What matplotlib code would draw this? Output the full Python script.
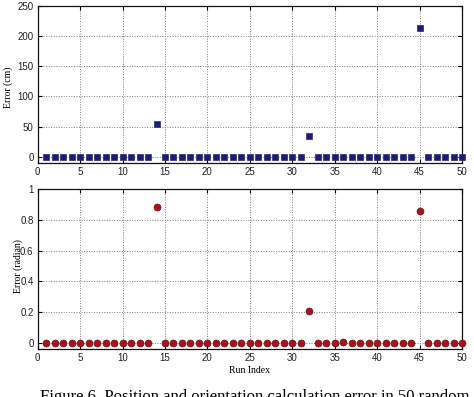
import numpy as np
import matplotlib
matplotlib.use("Agg")
import matplotlib.pyplot as plt
from matplotlib.ticker import FuncFormatter

run_index = list(range(1, 51))
pos_error_cm = [0]*50
pos_error_cm[13] = 55
pos_error_cm[31] = 35
pos_error_cm[44] = 214
ori_error_rad = [0]*50
ori_error_rad[13] = 0.88
ori_error_rad[31] = 0.21
ori_error_rad[35] = 0.006
ori_error_rad[44] = 0.86

x_ticks = [0, 5, 10, 15, 20, 25, 30, 35, 40, 45, 50]
top_yticks = [0, 50, 100, 150, 200, 250]
bot_yticks = [0, 0.2, 0.4, 0.6, 0.8, 1.0]

fig = plt.figure(figsize=(4.74, 3.97), dpi=100)
W, H = 474, 397
def rect(l, t, r, b):
    return [l / W, 1 - b / H, (r - l) / W, (b - t) / H]

L, R = 37.7, 462
ax1 = fig.add_axes(rect(L, 6, R, 162.7))
ax2 = fig.add_axes(rect(L, 189, R, 349.3))

def style(ax):
    ax.set_xlim(0, 50)
    ax.set_xticks(x_ticks)
    ax.grid(True, linestyle=(0, (1, 1.6)), color="#7a7a7a", linewidth=0.7)
    ax.tick_params(direction="in", top=True, right=True, length=3, width=0.8,
                   labelsize=7, pad=3, colors="black")
    for lab in ax.get_xticklabels() + ax.get_yticklabels():
        lab.set_fontfamily(["Liberation Sans", "DejaVu Sans"])
        lab.set_color("#222222")
    for s in ax.spines.values():
        s.set_linewidth(0.9)
        s.set_color("#111111")
    ax.set_axisbelow(True)

ax1.plot(run_index, pos_error_cm, linestyle="none", marker="s", markersize=4.3,
         markerfacecolor="#1c1c78", markeredgecolor="#2a2a70", markeredgewidth=0.5,
         clip_on=False, zorder=3)
ax1.set_ylim(-10, 250)
ax1.set_yticks(top_yticks)
style(ax1)
ax1.set_ylabel("Error (cm)", family=["Liberation Serif", "DejaVu Serif"], fontsize=7)
ax1.yaxis.set_label_coords((13 - L) / (R - L), 0.48)

ax2.plot(run_index, ori_error_rad, linestyle="none", marker="o", markersize=5.0,
         markerfacecolor="#a3141c", markeredgecolor="#6e1014", markeredgewidth=0.5,
         clip_on=False, zorder=3)
ax2.set_ylim(-0.042, 1)
ax2.set_yticks(bot_yticks)
ax2.yaxis.set_major_formatter(FuncFormatter(lambda v, p: f"{v:g}"))
style(ax2)
ax2.set_ylabel("Error (radian)", family=["Liberation Serif", "DejaVu Serif"], fontsize=7)
ax2.yaxis.set_label_coords((23 - L) / (R - L), 0.52)
ax2.set_xlabel("Run Index", family=["Liberation Serif", "DejaVu Serif"], fontsize=7, labelpad=2)

fig.text(0.5 + 18 / W, 1 - 389 / H,
         "Figure 6. Position and orientation calculation error in 50 random",
         ha="center", va="top", fontsize=12,
         family=["Liberation Serif", "DejaVu Serif"])

fig.savefig("out.png", dpi=100, facecolor="white")
